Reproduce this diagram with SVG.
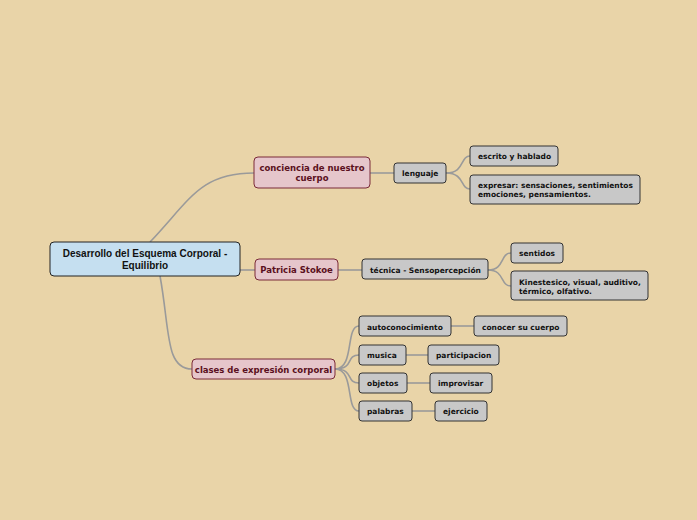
<svg xmlns="http://www.w3.org/2000/svg" width="697" height="520" viewBox="0 0 697 520">
<style>
.c{fill:none;stroke:#9a9a9a;stroke-width:1.6}
.r{fill:#c5dff0;stroke:#222;stroke-width:1}
.m{fill:#e6c6cb;stroke:#7a2a38;stroke-width:1}
.g{fill:#c8c8c8;stroke:#333;stroke-width:1}
text{font-family:"DejaVu Sans",Verdana,sans-serif;font-weight:bold;font-size:7.5px;fill:#111}
.rt{font-family:"Liberation Sans",Arial,sans-serif;font-size:10px;text-anchor:middle}
.mt{font-size:8.5px;fill:#5a1020;text-anchor:middle}
</style>
<rect width="697" height="520" fill="#e9d4a8"/>
<g id="connectors">
<path class="c" d="M150 242 C190 200 200 173 254 173"/>
<path class="c" d="M240 270 L255 270"/>
<path class="c" d="M160 276 C170 330 165 369 192 369"/>
<path class="c" d="M370 173 L394 173"/>
<path class="c" d="M446 173 C465 173 460 156 470 156"/>
<path class="c" d="M446 173 C465 173 460 189 470 189"/>
<path class="c" d="M338 270 L362 270"/>
<path class="c" d="M488 270 C505 270 500 253 511 253"/>
<path class="c" d="M488 270 C505 270 500 286 511 286"/>
<path class="c" d="M335 369 C355 369 345 326 359 326"/>
<path class="c" d="M335 369 C355 369 345 355 359 355"/>
<path class="c" d="M335 369 C355 369 345 383 359 383"/>
<path class="c" d="M335 369 C355 369 345 411 359 411"/>
<path class="c" d="M451 326 L474 326"/>
<path class="c" d="M406 355 L428 355"/>
<path class="c" d="M407 383 L430 383"/>
<path class="c" d="M412 411 L435 411"/>
</g>
<g id="root"><rect class="r" x="50" y="242" width="190" height="34" rx="4"/><text class="rt" x="145" y="257">Desarrollo del Esquema Corporal -</text><text class="rt" x="145" y="269">Equilibrio</text></g>
<g id="conciencia"><rect class="m" x="254" y="157" width="116" height="31" rx="4"/><text class="mt" x="312" y="171">conciencia de nuestro</text><text class="mt" x="312" y="181">cuerpo</text></g>
<g id="patricia"><rect class="m" x="255" y="259" width="83" height="21" rx="4"/><text class="mt" x="296.5" y="273">Patricia Stokoe</text></g>
<g id="clases"><rect class="m" x="192" y="359" width="143" height="20" rx="4"/><text class="mt" x="263.5" y="372.5">clases de expresión corporal</text></g>
<g id="lenguaje"><rect class="g" x="394" y="163" width="52" height="20" rx="3"/><text x="402" y="176">lenguaje</text></g>
<g id="escrito"><rect class="g" x="470" y="146" width="88" height="20" rx="3"/><text x="478" y="159">escrito y hablado</text></g>
<g id="expresar"><rect class="g" x="470" y="175" width="170" height="29" rx="3"/><text x="478" y="188">expresar: sensaciones, sentimientos</text><text x="478" y="197">emociones, pensamientos.</text></g>
<g id="tecnica"><rect class="g" x="362" y="259" width="126" height="20" rx="3"/><text x="370" y="272.5">técnica - Sensopercepción</text></g>
<g id="sentidos"><rect class="g" x="511" y="243" width="52" height="20" rx="3"/><text x="519" y="256">sentidos</text></g>
<g id="kinestesico"><rect class="g" x="511" y="271" width="137" height="29" rx="3"/><text x="519" y="285">Kinestesico, visual, auditivo,</text><text x="519" y="294">térmico, olfativo.</text></g>
<g id="autoconocimiento"><rect class="g" x="359" y="316" width="92" height="20" rx="3"/><text x="367" y="329.5">autoconocimiento</text></g>
<g id="conocer"><rect class="g" x="474" y="316" width="93" height="20" rx="3"/><text x="482" y="329.5">conocer su cuerpo</text></g>
<g id="musica"><rect class="g" x="359" y="345" width="47" height="20" rx="3"/><text x="367" y="358">musica</text></g>
<g id="participacion"><rect class="g" x="428" y="345" width="71" height="20" rx="3"/><text x="436" y="358">participacion</text></g>
<g id="objetos"><rect class="g" x="359" y="373" width="48" height="20" rx="3"/><text x="367" y="386">objetos</text></g>
<g id="improvisar"><rect class="g" x="430" y="373" width="62" height="20" rx="3"/><text x="438" y="386">improvisar</text></g>
<g id="palabras"><rect class="g" x="359" y="401" width="53" height="20" rx="3"/><text x="367" y="414">palabras</text></g>
<g id="ejercicio"><rect class="g" x="435" y="401" width="52" height="20" rx="3"/><text x="443" y="414">ejercicio</text></g>
</svg>
